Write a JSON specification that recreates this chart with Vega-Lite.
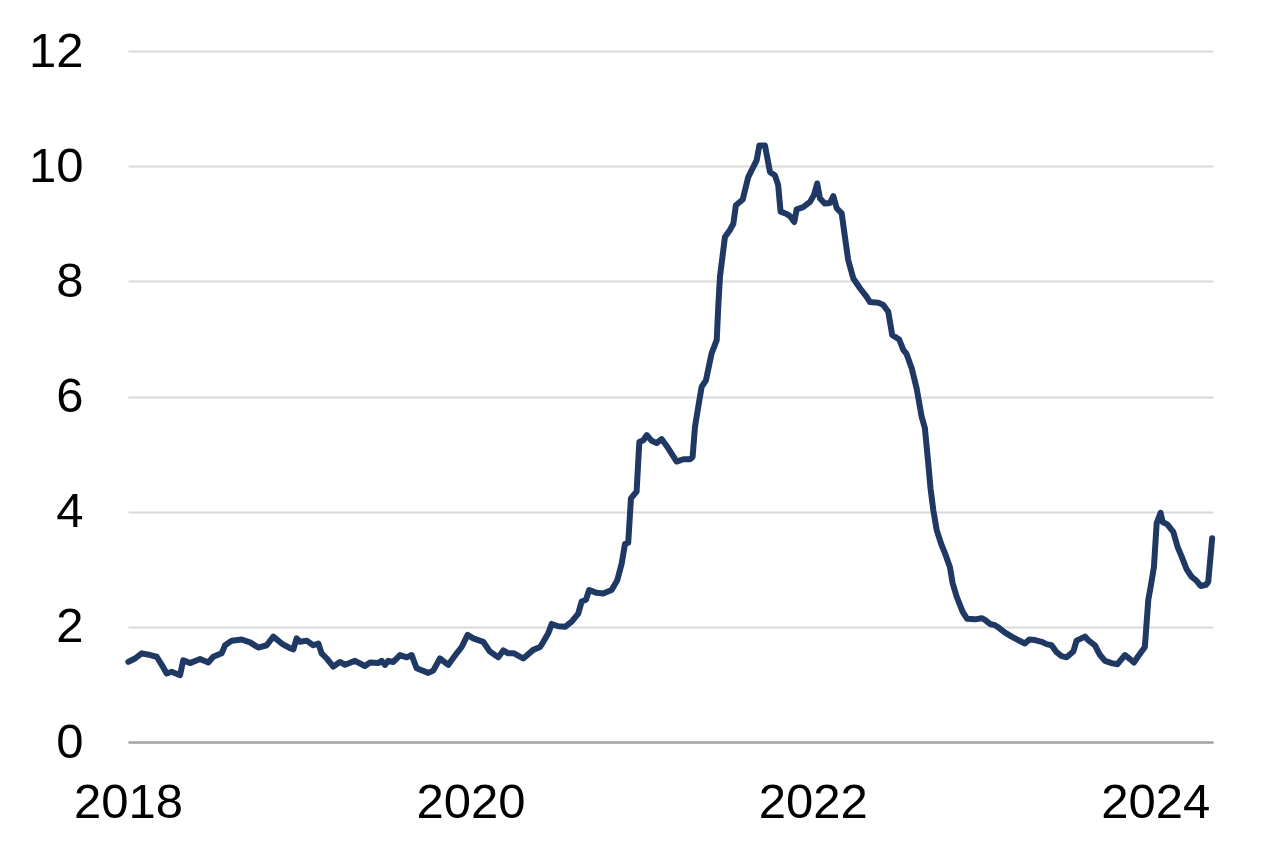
{
  "$schema": "https://vega.github.io/schema/vega-lite/v6.json",
  "autosize": "none",
  "width": 1085,
  "height": 691,
  "padding": {"left": 128, "top": 51, "right": 51, "bottom": 116},
  "background": "white",
  "config": {"view": {"stroke": null}, "font": "Liberation Sans"},
  "data": {"values": [
    {"year": 2018.002, "value": 1.39}, {"year": 2018.041, "value": 1.45}, {"year": 2018.080, "value": 1.54}, {"year": 2018.129, "value": 1.51},
    {"year": 2018.168, "value": 1.48}, {"year": 2018.197, "value": 1.34}, {"year": 2018.226, "value": 1.19}, {"year": 2018.255, "value": 1.22},
    {"year": 2018.304, "value": 1.16}, {"year": 2018.323, "value": 1.42}, {"year": 2018.362, "value": 1.37}, {"year": 2018.421, "value": 1.44},
    {"year": 2018.469, "value": 1.38}, {"year": 2018.498, "value": 1.48}, {"year": 2018.547, "value": 1.54}, {"year": 2018.567, "value": 1.68},
    {"year": 2018.606, "value": 1.76}, {"year": 2018.664, "value": 1.78}, {"year": 2018.713, "value": 1.73}, {"year": 2018.761, "value": 1.64},
    {"year": 2018.810, "value": 1.68}, {"year": 2018.849, "value": 1.83}, {"year": 2018.898, "value": 1.71}, {"year": 2018.946, "value": 1.63},
    {"year": 2018.966, "value": 1.61}, {"year": 2018.985, "value": 1.80}, {"year": 2019.005, "value": 1.74}, {"year": 2019.044, "value": 1.76},
    {"year": 2019.082, "value": 1.68}, {"year": 2019.112, "value": 1.71}, {"year": 2019.131, "value": 1.54}, {"year": 2019.161, "value": 1.45},
    {"year": 2019.199, "value": 1.31}, {"year": 2019.238, "value": 1.39}, {"year": 2019.268, "value": 1.34}, {"year": 2019.326, "value": 1.41},
    {"year": 2019.384, "value": 1.32}, {"year": 2019.414, "value": 1.38}, {"year": 2019.462, "value": 1.37}, {"year": 2019.482, "value": 1.41},
    {"year": 2019.501, "value": 1.34}, {"year": 2019.520, "value": 1.41}, {"year": 2019.550, "value": 1.39}, {"year": 2019.589, "value": 1.51},
    {"year": 2019.628, "value": 1.47}, {"year": 2019.657, "value": 1.51}, {"year": 2019.686, "value": 1.28}, {"year": 2019.754, "value": 1.20},
    {"year": 2019.783, "value": 1.24}, {"year": 2019.822, "value": 1.45}, {"year": 2019.871, "value": 1.34}, {"year": 2019.920, "value": 1.54},
    {"year": 2019.949, "value": 1.65}, {"year": 2019.984, "value": 1.86}, {"year": 2020.017, "value": 1.80}, {"year": 2020.046, "value": 1.77},
    {"year": 2020.075, "value": 1.74}, {"year": 2020.114, "value": 1.57}, {"year": 2020.163, "value": 1.47}, {"year": 2020.192, "value": 1.59},
    {"year": 2020.221, "value": 1.54}, {"year": 2020.255, "value": 1.54}, {"year": 2020.309, "value": 1.45}, {"year": 2020.367, "value": 1.60},
    {"year": 2020.407, "value": 1.65}, {"year": 2020.426, "value": 1.74}, {"year": 2020.455, "value": 1.89}, {"year": 2020.475, "value": 2.05},
    {"year": 2020.513, "value": 2.01}, {"year": 2020.553, "value": 2.00}, {"year": 2020.592, "value": 2.09}, {"year": 2020.630, "value": 2.23},
    {"year": 2020.650, "value": 2.44}, {"year": 2020.675, "value": 2.47}, {"year": 2020.694, "value": 2.64}, {"year": 2020.738, "value": 2.59},
    {"year": 2020.776, "value": 2.58}, {"year": 2020.825, "value": 2.64}, {"year": 2020.858, "value": 2.81}, {"year": 2020.884, "value": 3.10},
    {"year": 2020.903, "value": 3.44}, {"year": 2020.922, "value": 3.46}, {"year": 2020.938, "value": 4.23}, {"year": 2020.971, "value": 4.35},
    {"year": 2020.987, "value": 5.21}, {"year": 2021.010, "value": 5.24}, {"year": 2021.030, "value": 5.33}, {"year": 2021.059, "value": 5.23},
    {"year": 2021.088, "value": 5.19}, {"year": 2021.117, "value": 5.26}, {"year": 2021.156, "value": 5.10}, {"year": 2021.205, "value": 4.87},
    {"year": 2021.244, "value": 4.91}, {"year": 2021.283, "value": 4.91}, {"year": 2021.298, "value": 4.95}, {"year": 2021.312, "value": 5.47},
    {"year": 2021.331, "value": 5.82}, {"year": 2021.351, "value": 6.17}, {"year": 2021.376, "value": 6.28}, {"year": 2021.409, "value": 6.75},
    {"year": 2021.439, "value": 6.98}, {"year": 2021.448, "value": 7.56}, {"year": 2021.458, "value": 8.08}, {"year": 2021.487, "value": 8.77},
    {"year": 2021.516, "value": 8.89}, {"year": 2021.536, "value": 9.00}, {"year": 2021.551, "value": 9.32}, {"year": 2021.591, "value": 9.42},
    {"year": 2021.623, "value": 9.81}, {"year": 2021.672, "value": 10.10}, {"year": 2021.688, "value": 10.36}, {"year": 2021.721, "value": 10.36},
    {"year": 2021.750, "value": 9.90}, {"year": 2021.779, "value": 9.84}, {"year": 2021.798, "value": 9.67}, {"year": 2021.812, "value": 9.21},
    {"year": 2021.848, "value": 9.17}, {"year": 2021.867, "value": 9.13}, {"year": 2021.892, "value": 9.03}, {"year": 2021.906, "value": 9.25},
    {"year": 2021.944, "value": 9.29}, {"year": 2021.984, "value": 9.38}, {"year": 2022.007, "value": 9.50}, {"year": 2022.026, "value": 9.70},
    {"year": 2022.042, "value": 9.44}, {"year": 2022.071, "value": 9.35}, {"year": 2022.100, "value": 9.36}, {"year": 2022.120, "value": 9.48},
    {"year": 2022.140, "value": 9.27}, {"year": 2022.169, "value": 9.18}, {"year": 2022.188, "value": 8.77}, {"year": 2022.207, "value": 8.37},
    {"year": 2022.237, "value": 8.05}, {"year": 2022.276, "value": 7.88}, {"year": 2022.315, "value": 7.73}, {"year": 2022.334, "value": 7.64},
    {"year": 2022.383, "value": 7.63}, {"year": 2022.412, "value": 7.59}, {"year": 2022.441, "value": 7.47}, {"year": 2022.464, "value": 7.07},
    {"year": 2022.505, "value": 6.99}, {"year": 2022.529, "value": 6.81}, {"year": 2022.548, "value": 6.74}, {"year": 2022.578, "value": 6.49},
    {"year": 2022.607, "value": 6.14}, {"year": 2022.636, "value": 5.65}, {"year": 2022.655, "value": 5.45}, {"year": 2022.676, "value": 4.80},
    {"year": 2022.688, "value": 4.40}, {"year": 2022.704, "value": 4.03}, {"year": 2022.724, "value": 3.68}, {"year": 2022.749, "value": 3.45},
    {"year": 2022.772, "value": 3.28}, {"year": 2022.801, "value": 3.04}, {"year": 2022.817, "value": 2.76}, {"year": 2022.841, "value": 2.52},
    {"year": 2022.876, "value": 2.26}, {"year": 2022.902, "value": 2.14}, {"year": 2022.947, "value": 2.13}, {"year": 2022.987, "value": 2.15},
    {"year": 2023.006, "value": 2.12}, {"year": 2023.035, "value": 2.05}, {"year": 2023.064, "value": 2.03}, {"year": 2023.093, "value": 1.97},
    {"year": 2023.123, "value": 1.90}, {"year": 2023.162, "value": 1.83}, {"year": 2023.200, "value": 1.77}, {"year": 2023.239, "value": 1.71},
    {"year": 2023.265, "value": 1.78}, {"year": 2023.298, "value": 1.77}, {"year": 2023.337, "value": 1.74}, {"year": 2023.366, "value": 1.70},
    {"year": 2023.395, "value": 1.68}, {"year": 2023.421, "value": 1.57}, {"year": 2023.454, "value": 1.49}, {"year": 2023.483, "value": 1.47},
    {"year": 2023.522, "value": 1.57}, {"year": 2023.541, "value": 1.76}, {"year": 2023.590, "value": 1.83}, {"year": 2023.609, "value": 1.77},
    {"year": 2023.648, "value": 1.68}, {"year": 2023.678, "value": 1.51}, {"year": 2023.707, "value": 1.41}, {"year": 2023.746, "value": 1.37},
    {"year": 2023.779, "value": 1.35}, {"year": 2023.824, "value": 1.51}, {"year": 2023.853, "value": 1.44}, {"year": 2023.876, "value": 1.38},
    {"year": 2023.901, "value": 1.49}, {"year": 2023.940, "value": 1.65}, {"year": 2023.960, "value": 2.47}, {"year": 2023.974, "value": 2.70},
    {"year": 2023.993, "value": 3.04}, {"year": 2024.009, "value": 3.80}, {"year": 2024.032, "value": 3.98}, {"year": 2024.044, "value": 3.82},
    {"year": 2024.071, "value": 3.78}, {"year": 2024.106, "value": 3.65}, {"year": 2024.131, "value": 3.39}, {"year": 2024.155, "value": 3.22},
    {"year": 2024.184, "value": 3.00}, {"year": 2024.213, "value": 2.87}, {"year": 2024.242, "value": 2.80}, {"year": 2024.266, "value": 2.71},
    {"year": 2024.297, "value": 2.73}, {"year": 2024.310, "value": 2.78}, {"year": 2024.333, "value": 3.54}
  ]},
  "mark": {"type": "line", "color": "#1f3864", "strokeWidth": 6, "strokeJoin": "round", "strokeCap": "round", "clip": false},
  "encoding": {
    "x": {
      "field": "year", "type": "quantitative",
      "scale": {"domain": [2018, 2024.338], "nice": false, "zero": false},
      "axis": {
        "title": null, "values": [2018, 2020, 2022, 2024], "format": "d",
        "grid": false, "ticks": false, "labelFlush": false,
        "domain": true, "domainColor": "#a6a6a6", "domainWidth": 2.5,
        "labelFontSize": 49, "labelColor": "#000000", "labelPadding": 36,
        "labelFont": "Liberation Sans", "zindex": 1
      }
    },
    "y": {
      "field": "value", "type": "quantitative",
      "scale": {"domain": [0, 12], "nice": false},
      "axis": {
        "title": null, "values": [0, 2, 4, 6, 8, 10, 12],
        "grid": true, "gridColor": "#d9d9d9", "gridWidth": 2,
        "domain": false, "ticks": false,
        "labelFontSize": 49, "labelColor": "#000000", "labelPadding": 45,
        "labelFont": "Liberation Sans"
      }
    }
  }
}
